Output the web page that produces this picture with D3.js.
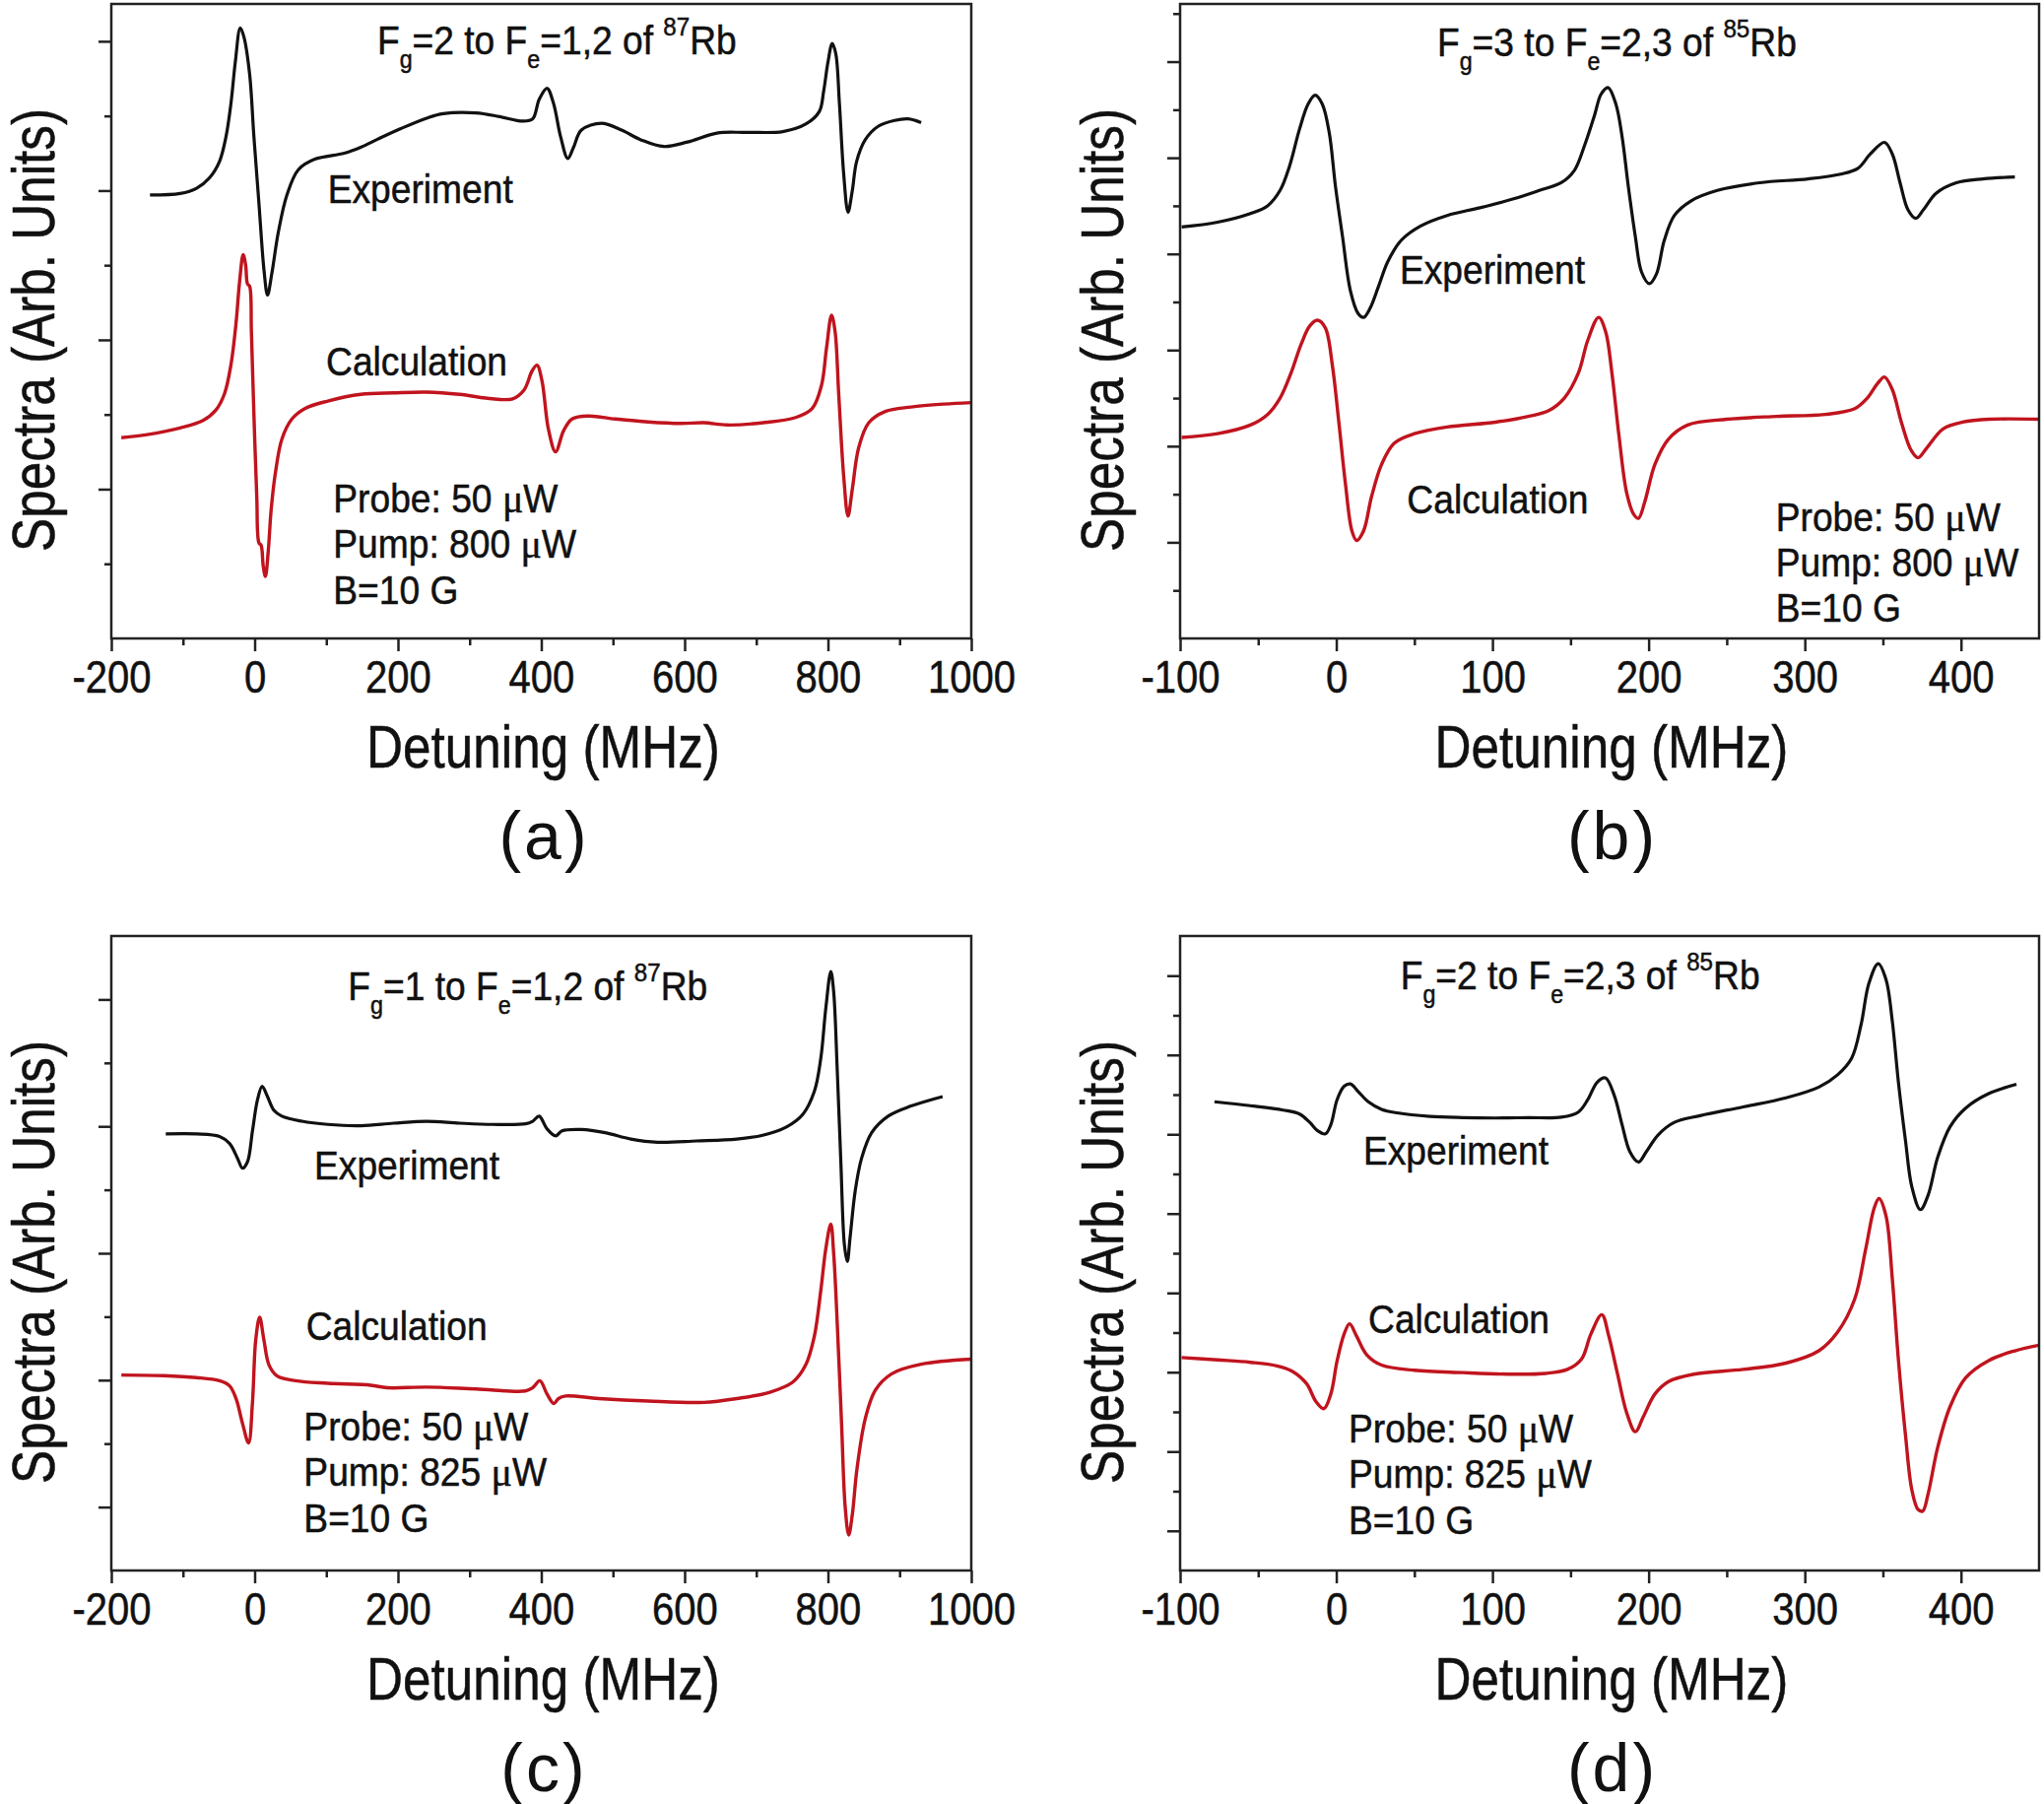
<!DOCTYPE html>
<html>
<head>
<meta charset="utf-8">
<script src="https://cdn.jsdelivr.net/npm/d3@7"></script>
<style>
body { margin: 0; background: #fff; }
svg { display: block; font-family: "Liberation Sans", Arial, sans-serif; }
text { white-space: pre; }
</style>
</head>
<body>
<div id="chart"></div>
<script>

// ---- tick values ----
var xMajorWide = [-200, 0, 200, 400, 600, 800, 1000];
var xMinorWide = [-100, 100, 300, 500, 700, 900];
var xMajorNarrow = [-100, 0, 100, 200, 300, 400];
var xMinorNarrow = [-50, 50, 150, 250, 350];

var yMajorA = [2, 4, 6, 8];
var yMinorA = [1, 3, 5, 7];
var yMajorB = [1, 2, 3, 4, 5, 6];
var yMinorB = [0.5, 1.5, 2.5, 3.5, 4.5, 5.5, 6.5];
var yMajorC = [1, 3, 5, 7, 9];
var yMinorC = [2, 4, 6, 8];
var yMajorD = [1, 3, 5, 7, 9, 11, 13, 15];
var yMinorD = [2, 4, 6, 8, 10, 12, 14];

// ---- labels ----
var panelLabels = ["(a)", "(b)", "(c)", "(d)"];
var groundF = ["2", "3", "1", "2"];
var excitedF = ["1,2", "2,3", "1,2", "2,3"];
var isotopes = ["87", "85", "87", "85"];
var pumpPowers = ["800", "800", "825", "825"];

// ---- spectra: [detuning MHz, signal (arb.)] ----
var expA = [[-146, 5.94], [-104, 5.96], [-81, 6.03], [-63, 6.17], [-49, 6.39], [-40, 6.72], [-33, 7.17], [-27, 7.72], [-20, 8.18], [-15, 8.06], [-7, 7.56], [-1, 6.72], [6, 5.83], [13, 4.94], [18, 4.6], [24, 4.89], [33, 5.44], [45, 5.94], [61, 6.28], [84, 6.42], [125, 6.5], [148, 6.58], [172, 6.69], [204, 6.83], [240, 6.97], [263, 7.03], [309, 7.04], [342, 6.99], [374, 6.93], [388, 6.96], [397, 7.22], [408, 7.37], [417, 7.17], [427, 6.72], [437, 6.43], [445, 6.58], [456, 6.81], [484, 6.9], [512, 6.81], [539, 6.68], [571, 6.59], [604, 6.65], [645, 6.77], [686, 6.78], [737, 6.79], [769, 6.89], [788, 7.06], [794, 7.33], [800, 7.72], [806, 7.97], [811, 7.83], [816, 7.17], [822, 6.22], [828, 5.71], [834, 6.0], [840, 6.39], [852, 6.68], [870, 6.86], [893, 6.94], [912, 6.96], [930, 6.91]];

var calcA = [[-186, 2.69], [-150, 2.73], [-104, 2.82], [-72, 2.92], [-54, 3.06], [-42, 3.28], [-33, 3.67], [-26, 4.22], [-21, 4.78], [-16, 5.14], [-12.5, 5.0], [-10, 4.75], [-7, 4.72], [-4.5, 4.11], [-1, 3.0], [3, 1.89], [6, 1.28], [9, 1.25], [12, 0.97], [15, 0.83], [19, 1.17], [23, 1.72], [29, 2.22], [38, 2.67], [52, 2.94], [70, 3.08], [102, 3.18], [148, 3.27], [194, 3.29], [240, 3.3], [286, 3.27], [332, 3.21], [360, 3.21], [376, 3.33], [387, 3.58], [394, 3.66], [401, 3.45], [410, 2.8], [420, 2.5], [431, 2.78], [443, 2.94], [466, 2.98], [503, 2.94], [549, 2.9], [595, 2.88], [627, 2.89], [659, 2.86], [710, 2.89], [755, 2.96], [778, 3.08], [791, 3.39], [798, 3.89], [805, 4.33], [810, 4.11], [815, 3.28], [822, 2.17], [828, 1.64], [834, 2.0], [843, 2.56], [857, 2.89], [880, 3.04], [916, 3.1], [962, 3.14], [1000, 3.16]];

var expB = [[-99, 4.28], [-76, 4.33], [-55, 4.42], [-44, 4.5], [-36, 4.66], [-30, 4.91], [-23.5, 5.3], [-18, 5.56], [-13.5, 5.65], [-9, 5.56], [-4.5, 5.26], [-0.5, 4.7], [4, 4.18], [9, 3.62], [14, 3.38], [17.5, 3.34], [21.5, 3.43], [27, 3.66], [33, 3.92], [41.5, 4.14], [54, 4.29], [71, 4.4], [92, 4.48], [113, 4.57], [130, 4.66], [144, 4.74], [152.5, 4.87], [159, 5.13], [165.5, 5.45], [169.5, 5.66], [174, 5.73], [179, 5.56], [183, 5.22], [187, 4.7], [191.5, 4.18], [195.5, 3.81], [200.5, 3.69], [205, 3.79], [210, 4.14], [216.5, 4.4], [227, 4.55], [244, 4.66], [271, 4.74], [302, 4.78], [323, 4.83], [334, 4.89], [342, 5.04], [351, 5.16], [356, 5.04], [361, 4.74], [366, 4.46], [371, 4.37], [376, 4.46], [384, 4.63], [397, 4.74], [414, 4.78], [434.5, 4.8]];

var calcB = [[-99, 2.09], [-76, 2.13], [-55, 2.22], [-44, 2.33], [-36, 2.5], [-29, 2.76], [-22.5, 3.06], [-17, 3.25], [-12, 3.31], [-7, 3.23], [-2.5, 2.84], [1.7, 2.24], [6, 1.59], [10, 1.12], [13, 1.02], [17.5, 1.12], [22.5, 1.47], [29, 1.81], [37, 2.03], [50, 2.13], [71, 2.2], [102, 2.25], [123, 2.31], [136, 2.37], [146, 2.5], [155, 2.76], [161, 3.1], [168, 3.34], [172.5, 3.19], [176.5, 2.76], [181, 2.11], [186, 1.51], [190.5, 1.29], [193.5, 1.25], [197.5, 1.42], [204, 1.81], [212.5, 2.07], [225, 2.22], [250, 2.28], [282, 2.31], [313, 2.33], [332, 2.39], [340, 2.5], [346.5, 2.65], [351, 2.72], [356, 2.59], [362, 2.24], [368, 1.96], [372.5, 1.88], [378, 1.98], [388.5, 2.18], [401, 2.25], [418, 2.28], [450, 2.28]];

var expC = [[-124, 6.88], [-81, 6.88], [-49, 6.84], [-35, 6.73], [-24, 6.5], [-17, 6.34], [-10, 6.44], [-3, 6.93], [4, 7.42], [10.5, 7.63], [17.5, 7.48], [27, 7.25], [38, 7.16], [66, 7.08], [102, 7.03], [148, 7.01], [194, 7.05], [240, 7.08], [286, 7.05], [332, 7.03], [378, 7.04], [388, 7.08], [397, 7.16], [408, 6.96], [420, 6.85], [429, 6.93], [456, 6.95], [489, 6.9], [525, 6.8], [562, 6.75], [617, 6.77], [673, 6.8], [709, 6.86], [742, 6.99], [765, 7.19], [781, 7.55], [790, 8.07], [797, 8.86], [804, 9.44], [808, 9.12], [813, 7.88], [818, 6.44], [823, 5.13], [827, 4.87], [831, 5.26], [838, 5.98], [847, 6.5], [861, 6.9], [884, 7.16], [916, 7.32], [960, 7.47]];

var calcC = [[-186, 3.08], [-127, 3.07], [-81, 3.04], [-49, 2.99], [-35, 2.91], [-26, 2.71], [-17, 2.32], [-8.5, 2.01], [-3, 2.65], [1.5, 3.63], [7, 3.99], [13, 3.63], [20, 3.24], [31, 3.07], [57, 2.99], [102, 2.95], [162, 2.92], [185, 2.88], [240, 2.89], [309, 2.86], [378, 2.83], [388, 2.88], [398, 2.99], [408, 2.78], [417.5, 2.63], [424, 2.71], [434, 2.75], [480, 2.71], [549, 2.67], [627, 2.65], [673, 2.71], [719, 2.81], [751, 2.97], [769, 3.24], [781, 3.69], [790, 4.41], [797, 5.07], [804, 5.46], [808, 5.0], [813, 3.89], [819, 2.32], [824, 1.01], [829, 0.56], [834, 0.88], [840.5, 1.6], [852, 2.39], [866, 2.84], [889, 3.1], [930, 3.25], [1000, 3.33]];

var expD = [[-78, 11.82], [-55, 11.72], [-34, 11.61], [-23.5, 11.51], [-17, 11.3], [-12, 11.09], [-7, 11.01], [-3.5, 11.24], [0.5, 11.87], [5, 12.21], [9, 12.27], [14, 12.08], [20.5, 11.82], [29, 11.63], [39, 11.54], [60, 11.45], [81, 11.42], [102, 11.41], [123, 11.42], [144, 11.43], [155, 11.56], [161, 11.87], [167, 12.31], [172.3, 12.42], [178, 11.98], [183, 11.24], [188, 10.56], [193.5, 10.3], [198.5, 10.56], [206, 10.98], [216.5, 11.3], [233, 11.47], [260.5, 11.69], [288, 11.92], [309, 12.19], [321, 12.5], [330, 12.92], [336, 13.76], [341, 14.8], [347, 15.3], [352, 14.9], [356, 13.86], [360, 12.29], [364.5, 10.83], [368.5, 9.68], [374, 9.1], [379, 9.47], [385, 10.41], [393, 11.19], [403, 11.66], [418, 12.03], [435.5, 12.26]];

var calcD = [[-99, 5.37], [-76, 5.31], [-55, 5.25], [-38, 5.16], [-28, 5.02], [-19, 4.71], [-13, 4.26], [-8, 4.08], [-3.5, 4.45], [0.5, 5.28], [5, 5.96], [8.5, 6.22], [13, 5.91], [19.5, 5.44], [29, 5.18], [50, 5.05], [81, 4.99], [113, 4.95], [134, 4.97], [148, 5.07], [157, 5.33], [163, 5.96], [170, 6.45], [174.5, 5.91], [180, 4.97], [186, 3.97], [191.5, 3.5], [196.5, 3.87], [204, 4.45], [212.5, 4.76], [229, 4.95], [260.5, 5.07], [288, 5.23], [309, 5.54], [321, 6.01], [332, 6.85], [339, 8.11], [344.5, 9.15], [347.5, 9.38], [352, 8.94], [356, 7.37], [360, 5.28], [364.5, 3.4], [368.5, 2.04], [372.5, 1.54], [375.5, 1.5], [379, 1.94], [385, 3.09], [393, 4.13], [403, 4.86], [418, 5.3], [434.5, 5.54], [450, 5.68]];


var W = 2075, H = 1831;

var svg = d3.select("#chart").append("svg")
    .attr("width", W)
    .attr("height", H);

svg.append("rect").attr("width", W).attr("height", H).attr("fill", "#fff");

// text with optional sub/superscripts, squeezed horizontally like the original
function addLabel(parent, x, y, sx, size, parts, rotate) {
    var t = parent.append("text")
        .attr("transform", "translate(" + x + "," + y + ")" + (rotate ? " rotate(" + rotate + ")" : "") + " scale(" + sx + ",1)")
        .attr("font-size", size)
        .attr("fill", "#111")
        .attr("stroke", "#111")
        .attr("stroke-width", 0.5);
    var shift = 0;
    parts.forEach(function(p) {
        var s = p.shift || 0;
        var ts = t.append("tspan")
            .attr("dy", s - shift)
            .attr("font-size", p.size || size)
            .text(p.text);
        if (p.family) ts.attr("font-family", p.family);
        shift = s;
    });
    return t;
}

SpectraPanel = function(_svg, _box, _opts, _index) {
    this.svg = _svg;
    this.box = _box;
    this.opts = _opts;
    this.index = _index;
    this.initVis();
};

SpectraPanel.prototype.initVis = function() {
    var vis = this;
    var o = vis.opts;

    vis.width = vis.box.width;
    vis.height = vis.box.height;

    vis.g = vis.svg.append("g")
        .attr("transform", "translate(" + vis.box.left + "," + vis.box.top + ")");

    vis.x = d3.scaleLinear().domain(o.xDomain).range([0, vis.width]);
    vis.y = d3.scaleLinear().domain([0, o.yMax]).range([vis.height, 0]);

    var clipId = "clip" + vis.index;
    vis.g.append("clipPath").attr("id", clipId)
        .append("rect").attr("width", vis.width).attr("height", vis.height);

    // y ticks (no labels)
    [[o.yMajor, 13], [o.yMinor, 7]].forEach(function(t) {
        var ax = vis.g.append("g").attr("class", "y-axis")
            .call(d3.axisLeft(vis.y).tickValues(t[0]).tickSize(t[1]).tickSizeOuter(0).tickFormat(""));
        ax.select(".domain").remove();
        ax.selectAll("line").attr("stroke", "#222").attr("stroke-width", 2.5);
    });

    // x ticks
    var xMaj = vis.g.append("g").attr("class", "x-axis")
        .attr("transform", "translate(0," + vis.height + ")")
        .call(d3.axisBottom(vis.x).tickValues(o.xMajor).tickSize(13).tickSizeOuter(0)
            .tickFormat(function(d) { return String(d); }));
    xMaj.select(".domain").remove();
    xMaj.selectAll("line").attr("stroke", "#222").attr("stroke-width", 2.5);
    xMaj.selectAll("text")
        .attr("y", 55).attr("dy", 0)
        .attr("font-size", 46)
        .attr("font-family", "Liberation Sans, Arial, sans-serif")
        .attr("fill", "#111")
        .attr("stroke", "#111").attr("stroke-width", 0.5)
        .attr("transform", "scale(0.87,1)");

    var xMin = vis.g.append("g")
        .attr("transform", "translate(0," + vis.height + ")")
        .call(d3.axisBottom(vis.x).tickValues(o.xMinor).tickSize(7).tickSizeOuter(0).tickFormat(""));
    xMin.select(".domain").remove();
    xMin.selectAll("line").attr("stroke", "#222").attr("stroke-width", 2.5);

    // curves
    vis.line = d3.line()
        .x(function(d) { return vis.x(d[0]); })
        .y(function(d) { return vis.y(d[1]); })
        .curve(d3.curveCatmullRom.alpha(0.5));

    var curves = vis.g.append("g").attr("clip-path", "url(#" + clipId + ")");
    curves.append("path").datum(o.exp)
        .attr("d", vis.line).attr("fill", "none")
        .attr("stroke", "#111").attr("stroke-width", 3.2).attr("stroke-linejoin", "round");
    curves.append("path").datum(o.calc)
        .attr("d", vis.line).attr("fill", "none")
        .attr("stroke", "#c0141e").attr("stroke-width", 3.4).attr("stroke-linejoin", "round");

    // frame
    vis.g.append("rect")
        .attr("width", vis.width).attr("height", vis.height)
        .attr("fill", "none").attr("stroke", "#222").attr("stroke-width", 2.5);

    // annotations
    var i = vis.index;
    var n = o.note;
    addLabel(vis.g, vis.x(n.title[0]), vis.y(n.title[1]), 0.93, 40, [
        { text: "F" }, { text: "g", size: 25, shift: 14 },
        { text: "=" + groundF[i] + " to F" }, { text: "e", size: 25, shift: 14 },
        { text: "=" + excitedF[i] + " of " }, { text: isotopes[i], size: 26, shift: -19 },
        { text: "Rb" }
    ]);
    addLabel(vis.g, vis.x(n.exp[0]), vis.y(n.exp[1]), 0.93, 40, [{ text: "Experiment" }]);
    addLabel(vis.g, vis.x(n.calc[0]), vis.y(n.calc[1]), 0.93, 40, [{ text: "Calculation" }]);

    var ix = vis.x(n.info[0]), iy = vis.y(n.info[1]);
    addLabel(vis.g, ix, iy, 0.93, 40, [{ text: "Probe: 50 " }, { text: "μ", family: "Liberation Serif", size: 43 }, { text: "W" }]);
    addLabel(vis.g, ix, iy + 46.3, 0.93, 40, [{ text: "Pump: " + pumpPowers[i] + " " }, { text: "μ", family: "Liberation Serif", size: 43 }, { text: "W" }]);
    addLabel(vis.g, ix, iy + 92.6, 0.93, 40, [{ text: "B=10 G" }]);

    // axis titles
    addLabel(vis.g, vis.width / 2 + 2, vis.height + 131, 0.84, 61, [{ text: "Detuning (MHz)" }])
        .attr("text-anchor", "middle");
    addLabel(vis.g, -58, vis.height / 2 + 9, 0.84, 61, [{ text: "Spectra (Arb. Units)" }], -90)
        .attr("text-anchor", "middle");

    // panel letter
    vis.g.append("text")
        .attr("x", vis.width / 2 + 3)
        .attr("y", vis.height + 224)
        .attr("text-anchor", "middle")
        .attr("font-size", 68)
        .attr("letter-spacing", 3)
        .attr("fill", "#111")
        .text(panelLabels[i]);
};

var boxes = [
    { left: 113, top: 4, width: 873, height: 644 },
    { left: 1198, top: 4, width: 872, height: 644 },
    { left: 113, top: 950, width: 873, height: 644 },
    { left: 1198, top: 950, width: 872, height: 644 }
];

var settings = [
    { xDomain: [-200, 1000], yMax: 8.5, xMajor: xMajorWide, xMinor: xMinorWide, yMajor: yMajorA, yMinor: yMinorA,
      exp: expA, calc: calcA,
      note: { title: [171, 7.83], exp: [102, 5.84], calc: [99.7, 3.52], info: [109.7, 1.69] } },
    { xDomain: [-100, 450], yMax: 6.6, xMajor: xMajorNarrow, xMinor: xMinorNarrow, yMajor: yMajorB, yMinor: yMinorB,
      exp: expB, calc: calcB,
      note: { title: [64.6, 6.06], exp: [40.6, 3.69], calc: [45.3, 1.30], info: [281.4, 1.12] } },
    { xDomain: [-200, 1000], yMax: 10, xMajor: xMajorWide, xMinor: xMinorWide, yMajor: yMajorC, yMinor: yMinorC,
      exp: expC, calc: calcC,
      note: { title: [130.3, 8.99], exp: [83.2, 6.16], calc: [71.8, 3.63], info: [68.5, 2.05] } },
    { xDomain: [-100, 450], yMax: 16, xMajor: xMajorNarrow, xMinor: xMinorNarrow, yMajor: yMajorD, yMinor: yMinorD,
      exp: expD, calc: calcD,
      note: { title: [41.1, 14.66], exp: [17.3, 10.24], calc: [20.5, 6.0], info: [7.9, 3.23] } }
];

settings.forEach(function(s, i) {
    new SpectraPanel(svg, boxes[i], s, i);
});

</script>
</body>
</html>
